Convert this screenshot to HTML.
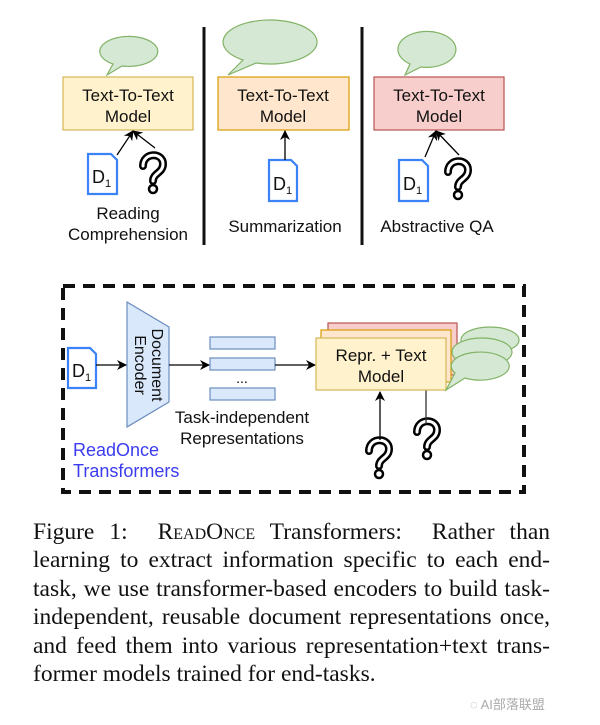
<!DOCTYPE html>
<html><head><meta charset="utf-8"><style>
html,body{margin:0;padding:0;background:#fff;width:600px;height:725px;overflow:hidden}
.cap{position:absolute;left:33px;top:518px;width:517px;font-family:"Liberation Serif",serif;font-size:23.5px;line-height:28.4px;color:#111}
.cap div{text-align:justify;text-align-last:justify;white-space:nowrap}
.cap div.l{text-align-last:left}
.sc{font-variant:small-caps}
.wm{position:absolute;left:470px;top:694px;font-family:"Liberation Sans","Noto Sans CJK SC",sans-serif;font-size:13px;color:#aaa}
</style></head><body>
<svg width="600" height="725" style="position:absolute;left:0;top:0" font-family="Liberation Sans, sans-serif">
<defs>
<marker id="a" markerWidth="10" markerHeight="10" refX="9" refY="5" orient="auto" markerUnits="userSpaceOnUse"><path d="M0,0 L10,5 L0,10 L3,5z" fill="#000"/></marker>
<g id="q">
<path d="M-9,-8 C-9,-22 11,-22 11,-10 C11,-1 1,-1 1,7" fill="none" stroke="#000" stroke-width="8" stroke-linecap="round"/>
<path d="M-9,-8 C-9,-22 11,-22 11,-10 C11,-1 1,-1 1,7" fill="none" stroke="#fff" stroke-width="3" stroke-linecap="round"/>
<circle cx="1" cy="15" r="4" fill="#fff" stroke="#000" stroke-width="2.5"/>
</g>
</defs>
<line x1="204" y1="27" x2="204" y2="245" stroke="#111" stroke-width="3"/>
<line x1="362" y1="27" x2="362" y2="245" stroke="#111" stroke-width="3"/>
<g fill="#d5e8d4" stroke="#82b366" stroke-width="1.2">
<path d="M113,64 A29,15 0 1 1 122,66 L107,75 Z"/>
<path d="M243,60 A47,22 0 1 1 256,63 L228,75 Z"/>
<path d="M410,64 A29,18 0 1 1 421,67 L405,75 Z"/>
</g>
<rect x="63" y="77" width="130" height="53" fill="#fff2cc" stroke="#d6b656" stroke-width="1.2"/>
<rect x="218" y="77" width="131" height="53" fill="#ffe6cc" stroke="#d79b00" stroke-width="1.2"/>
<rect x="374" y="77" width="130" height="53" fill="#f8cecc" stroke="#b85450" stroke-width="1.2"/>
<g font-size="17" text-anchor="middle" fill="#111">
<text x="128" y="101">Text-To-Text</text><text x="128" y="122">Model</text>
<text x="283" y="101">Text-To-Text</text><text x="283" y="122">Model</text>
<text x="439" y="101">Text-To-Text</text><text x="439" y="122">Model</text>
<text x="128" y="219">Reading</text><text x="128" y="240">Comprehension</text>
<text x="285" y="232">Summarization</text>
<text x="437" y="232">Abstractive QA</text>
</g>
<g fill="#fff" stroke="#3b82f6" stroke-width="2.2">
<path d="M88,154 L111,154 L117,160 L117,194 L88,194 Z"/>
<path d="M269,160 L291,160 L297,166 L297,201 L269,201 Z"/>
<path d="M399,160 L422,160 L428,166 L428,201 L399,201 Z"/>
<path d="M68,348 L90,348 L96,354 L96,388 L68,388 Z"/>
</g>
<g font-size="18" fill="#111">
<text x="92" y="183">D<tspan font-size="11" dy="4">1</tspan></text>
<text x="273" y="190">D<tspan font-size="11" dy="4">1</tspan></text>
<text x="403" y="190">D<tspan font-size="11" dy="4">1</tspan></text>
<text x="72" y="377">D<tspan font-size="11" dy="4">1</tspan></text>
</g>
<use href="#q" x="152" y="174"/>
<use href="#q" x="457" y="180"/>
<use href="#q" x="378" y="459"/>
<use href="#q" x="426" y="440"/>
<g stroke="#000" stroke-width="1.3" marker-end="url(#a)">
<line x1="117" y1="155" x2="133" y2="131"/>
<line x1="155" y1="148" x2="133" y2="131"/>
<line x1="285" y1="160" x2="285" y2="131"/>
<line x1="425" y1="157" x2="436" y2="131"/>
<line x1="459" y1="155" x2="436" y2="131"/>
</g>
<rect x="63" y="286" width="461" height="206" fill="none" stroke="#111" stroke-width="4" stroke-dasharray="12,8"/>
<path d="M127,302 L169,327 L169,402 L127,427 Z" fill="#dae8fc" stroke="#6c8ebf" stroke-width="1.2"/>
<g font-size="16" fill="#111" text-anchor="middle">
<text transform="translate(152,365) rotate(90)">Document</text>
<text transform="translate(135,365) rotate(90)">Encoder</text>
</g>
<g fill="#dae8fc" stroke="#6c8ebf" stroke-width="1.2">
<rect x="210" y="337" width="65" height="12"/>
<rect x="210" y="358" width="65" height="12"/>
<rect x="210" y="388" width="65" height="12"/>
</g>
<text x="242" y="383" font-size="14" text-anchor="middle">...</text>
<g font-size="17" fill="#111" text-anchor="middle">
<text x="242" y="423">Task-independent</text>
<text x="242" y="444">Representations</text>
</g>
<g font-size="18" fill="#3b3bf0">
<text x="73" y="456">ReadOnce</text>
<text x="73" y="477">Transformers</text>
</g>
<g stroke="#000" stroke-width="1.3" marker-end="url(#a)">
<line x1="96" y1="365" x2="126" y2="365"/>
<line x1="169" y1="365" x2="209" y2="365"/>
<line x1="275" y1="365" x2="315" y2="365"/>
<line x1="380" y1="440" x2="380" y2="392"/>
</g>
<line x1="426" y1="390" x2="426" y2="424" stroke="#333" stroke-width="1.3"/>
<rect x="328" y="323" width="129" height="52" fill="#f8cecc" stroke="#b85450" stroke-width="1.2"/>
<rect x="321" y="330" width="130" height="52" fill="#ffe6cc" stroke="#d79b00" stroke-width="1.2"/>
<rect x="316" y="338" width="130" height="52" fill="#fff2cc" stroke="#d6b656" stroke-width="1.2"/>
<g font-size="17" fill="#111" text-anchor="middle">
<text x="381" y="361">Repr. + Text</text><text x="381" y="382">Model</text>
</g>
<g fill="#d5e8d4" stroke="#82b366" stroke-width="1.2">
<ellipse cx="490" cy="340" rx="29" ry="13"/>
<ellipse cx="482" cy="352" rx="30" ry="14"/>
<path d="M455,373 A29,14 0 1 1 465,378 L446,390 Z"/>
</g>
</svg>
<div class="cap">
<div>Figure 1: &nbsp;<span class="sc">ReadOnce</span> Transformers: &nbsp;Rather than</div>
<div>learning to extract information specific to each end-</div>
<div>task, we use transformer-based encoders to build task-</div>
<div>independent, reusable document representations once,</div>
<div>and feed them into various representation+text trans-</div>
<div class="l">former models trained for end-tasks.</div>
</div>
<div class="wm">◌ AI部落联盟</div>
</body></html>
